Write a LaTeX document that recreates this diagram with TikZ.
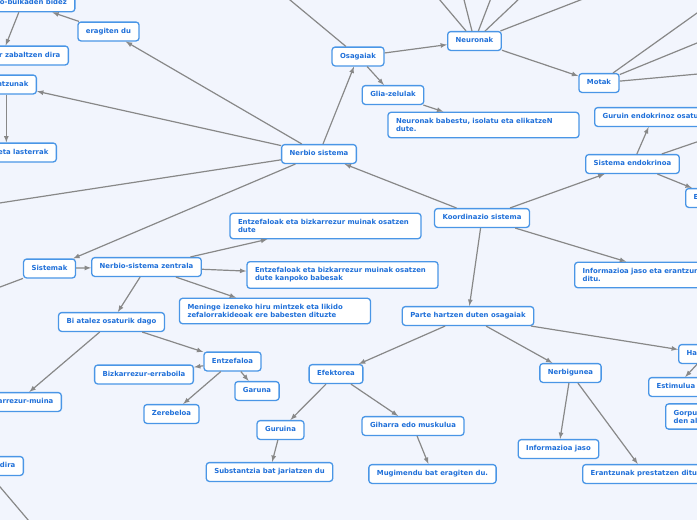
\documentclass[tikz,border=0pt]{standalone}
\usepackage{fontspec}
\setmainfont{DejaVu Sans}
\usetikzlibrary{arrows}
\definecolor{bgcol}{HTML}{F2F5FD}
\definecolor{boxblue}{HTML}{4A96E6}
\definecolor{txtblue}{HTML}{1E6FD9}
\definecolor{linegray}{HTML}{888888}

\begin{document}
\begin{tikzpicture}[x=1pt,y=-1pt,
  topic/.style={draw=boxblue,fill=white,rounded corners=3pt,line width=1.3pt,text=txtblue,font=\fontsize{6.9}{8}\selectfont\bfseries,inner xsep=8pt,inner ysep=6pt},
  one/.style={topic,text height=5.3pt,text depth=1.5pt},
  note/.style={topic,text width=175pt,align=left},
  conn/.style={draw=linegray,line width=1.2pt,-latex}]
%canvas
\useasboundingbox (0,0) rectangle (697,520);
\fill[bgcol] (0,0) rectangle (697,520);
\clip (0,0) rectangle (697,520);
%nerbio sistema side
\node[one] (nerv) at (319,154) {Nerbio sistema};
\node[one] (osag) at (358,56.5) {Osagaiak};
\node[one] (neur) at (474.5,41) {Neuronak};
\node[one] (motak) at (599,83) {Motak};
\node[one] (glia) at (393,95) {Glia-zelulak};
\node[note] (babes) at (483.5,125) {Neuronak babestu, isolatu eta elikatzeN\\dute.};
\node[one] (erag) at (108.5,31.5) {eragiten du};
\node[one,anchor=east] (bulk) at (75.5,2.3) {Nerbio-bulkaden bidez};
\node[one,anchor=east] (zabal) at (69,55.5) {Bulkadak azkar zabaltzen dira};
\node[one,anchor=east] (erantz) at (37,84.5) {Erantzunak};
\node[one,anchor=east] (laster) at (57,152.5) {Azkarrak eta lasterrak};
%sistemak
\node[one] (sist) at (49.5,268.5) {Sistemak};
\node[one] (nsz) at (146.5,267) {Nerbio-sistema zentrala};
\node[note] (osatu) at (325.5,226) {Entzefaloak eta bizkarrezur muinak osatzen\\dute};
\node[note] (kanpo) at (342.5,275) {Entzefaloak eta bizkarrezur muinak osatzen\\dute kanpoko babesak};
\node[note] (mening) at (275,311) {Meninge izeneko hiru mintzek eta likido\\zefalorrakideoak ere babesten dituzte};
\node[one] (biatal) at (111.5,322) {Bi atalez osaturik dago};
\node[one,anchor=east] (bizkmuin) at (62,402) {Bizkarrezur-muina};
\node[one,anchor=east] (dira) at (24,466) {Bi motakoak dira};
\node[one] (entzef) at (232.5,361.5) {Entzefaloa};
\node[one] (erraboil) at (144,374.5) {Bizkarrezur-erraboila};
\node[one] (garuna) at (257,391) {Garuna};
\node[one] (zerebel) at (171.5,414) {Zerebeloa};
%koordinazio sistema side
\node[one] (koord) at (482,218) {Koordinazio sistema};
\node[one] (endo) at (632.5,164) {Sistema endokrinoa};
\node[one,anchor=west] (guruin) at (594,117) {Guruin endokrinoz osatua};
\node[one,anchor=west] (ezaug) at (685,198) {Ezaugarriak};
\node[note,anchor=west] (infoer) at (574,275) {Informazioa jaso eta erantzunak ematen\\ditu.};
\node[one] (parte) at (468,316) {Parte hartzen duten osagaiak};
\node[one] (efekt) at (336,374) {Efektorea};
\node[one] (guruina) at (280.5,430) {Guruina};
\node[one] (subst) at (269.5,472) {Substantzia bat jariatzen du};
\node[one] (gihar) at (413,426) {Giharra edo muskulua};
\node[one] (mugim) at (432.5,474) {Mugimendu bat eragiten du.};
\node[one] (nerbig) at (570.5,373) {Nerbigunea};
\node[one] (infojaso) at (558.5,449) {Informazioa jaso};
\node[one,anchor=west] (erprest) at (582,474) {Erantzunak prestatzen ditu.};
\node[one,anchor=west] (ha) at (678,354) {Hartzailea};
\node[one,anchor=west] (estim) at (648,387) {Estimulua};
\node[note,anchor=west] (gorpu) at (665,416.5) {Gorputzean gertatzen\\den aldaketa};
%free ends off the page
\coordinate (nl) at (-20,206);
\coordinate (sl) at (-20,294.5);
\coordinate (ol) at (266,-20);
\coordinate (el) at (720,134);
\coordinate (dl) at (40,534);
\foreach \x [count=\i] in {423,459,498,539,632}
  \coordinate (nt\i) at (\x,-20);
\foreach \y [count=\i] in {-3.4,33.6,72}
  \coordinate (mt\i) at (720,\y);
%connectors
\draw[conn] (nerv) -- (osag);
\draw[conn] (nerv) -- (erag);
\draw[conn] (nerv) -- (erantz);
\draw[conn] (nerv) -- (sist);
\draw[conn] (nerv) -- (nl);
\draw[conn] (erag) -- (bulk);
\draw[conn] (bulk) -- (zabal);
\draw[conn] (erantz) -- (erantz |- laster.north);
\draw[conn] (osag) -- (neur);
\draw[conn] (osag) -- (glia);
\draw[conn] (osag) -- (ol);
\draw[conn] (glia) -- (babes);
\draw[conn] (neur) -- (motak);
\foreach \i in {1,...,5}
  \draw[conn] (neur) -- (nt\i);
\foreach \i in {1,2,3}
  \draw[conn] (motak) -- (mt\i);
\draw[conn] (sist) -- (nsz);
\draw[conn] (sist) -- (sl);
\draw[conn] (nsz) -- (osatu);
\draw[conn] (nsz) -- (kanpo);
\draw[conn] (nsz) -- (mening);
\draw[conn] (nsz) -- (biatal);
\draw[conn] (biatal) -- (bizkmuin);
\draw[conn] (biatal) -- (entzef);
\draw[conn] (dira) -- (dl);
\draw[conn] (entzef) -- (erraboil);
\draw[conn] (entzef) -- (garuna);
\draw[conn] (entzef) -- (zerebel);
\draw[conn] (koord) -- (nerv);
\draw[conn] (koord) -- (endo);
\draw[conn] (koord) -- (infoer);
\draw[conn] (koord) -- (parte);
\draw[conn] (endo) -- (guruin);
\draw[conn] (endo) -- (ezaug);
\draw[conn] (endo) -- (el);
\draw[conn] (parte) -- (efekt);
\draw[conn] (parte) -- (nerbig);
\draw[conn] (parte) -- (ha);
\draw[conn] (efekt) -- (guruina);
\draw[conn] (efekt) -- (gihar);
\draw[conn] (guruina) -- (subst);
\draw[conn] (gihar) -- (mugim);
\draw[conn] (nerbig) -- (infojaso);
\draw[conn] (nerbig) -- (erprest);
\draw[conn] (ha) -- (estim);
\end{tikzpicture}
\end{document}
